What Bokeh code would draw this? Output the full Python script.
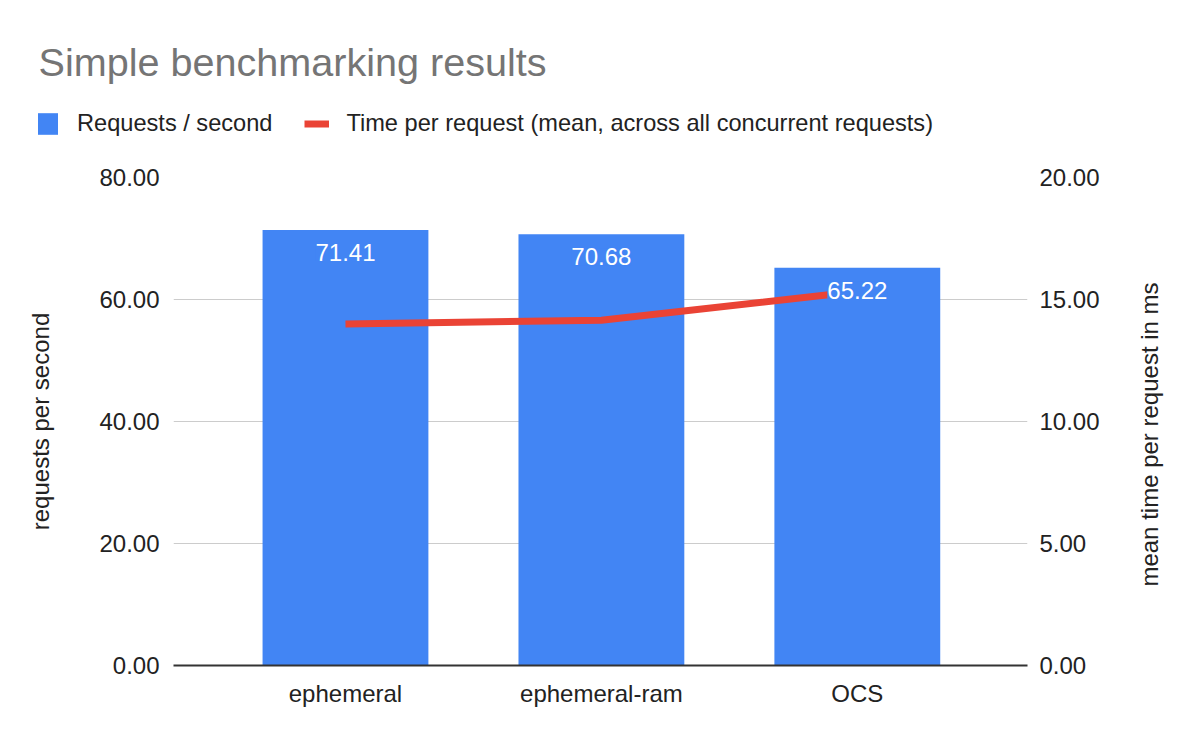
import numpy as np
from bokeh.plotting import figure
from bokeh.layouts import column, row
from bokeh.core.properties import value
from bokeh.models import (ColumnDataSource, LabelSet, Label, LinearAxis, Range1d,
                          FixedTicker, NumeralTickFormatter, Legend, LegendItem)
from bokeh.embed import file_html
from bokeh.resources import INLINE

# data
categories = ['ephemeral', 'ephemeral-ram', 'OCS']
requests_per_second = [71.41, 70.68, 65.22]
time_per_request = [14.00, 14.15, 15.33]
left_ticks = [0, 20, 40, 60, 80]
right_ticks = [0, 5, 10, 15, 20]

FONT = 'Liberation Sans'
BLUE = '#4285f4'
RED = '#ea4335'
TXT = '#222222'
FS = '24px'
W = 1196
HEAD_H = 150
CHART_W = 1127
CHART_H = 588


def bare_figure(w, h):
    # plain strip with no axes, data units == pixels
    f = figure(width=w, height=h, x_range=Range1d(0, w), y_range=Range1d(0, h),
               x_axis_type=None, y_axis_type=None, min_border=0,
               output_backend='svg', toolbar_location=None)
    f.frame_align = False
    f.outline_line_color = None
    f.grid.visible = False
    return f


idx = list(range(len(categories)))
src = ColumnDataSource(data=dict(x=idx, rps=requests_per_second, tpr=time_per_request,
                                 label=['%.2f' % v for v in requests_per_second]))

# ---- header: title + legend ----
head = bare_figure(W, HEAD_H)
head.add_layout(Label(x=38, y=HEAD_H - 61, text='Simple benchmarking results',
                      text_baseline='alphabetic', text_font=FONT, text_font_size='39.6px',
                      text_color='#757575'))

# hidden copies of the series, only used for the legend swatches
k_bar = head.vbar(x='x', top='rps', width=0.648, source=src,
                  fill_color=BLUE, line_color=None, visible=False)
k_line = head.line(x='x', y='tpr', source=src, line_color=RED, line_width=7, visible=False)
legend = Legend(items=[LegendItem(label='Requests / second', renderers=[k_bar]),
                       LegendItem(label='Time per request (mean, across all concurrent requests)',
                                  renderers=[k_line])],
                location=(35, HEAD_H - 137), orientation='horizontal',
                glyph_width=25, glyph_height=27, label_standoff=17, spacing=32,
                padding=0, margin=0, border_line_color=None, background_fill_alpha=0,
                inactive_fill_alpha=0,
                label_text_font=FONT, label_text_font_size='23.6px', label_text_color=TXT)
head.add_layout(legend)

# ---- chart ----
p = figure(frame_width=854, frame_height=488,
           x_range=Range1d(-0.672, 2.665), y_range=Range1d(0, 80),
           min_border_left=173, min_border_right=CHART_W - 173 - 854,
           min_border_top=CHART_H - 488 - 73, min_border_bottom=73,
           output_backend='svg', toolbar_location=None)
p.frame_align = False
p.extra_y_ranges = {'right': Range1d(0, 20)}
p.outline_line_color = None
p.background_fill_color = 'white'

p.vbar(x='x', top='rps', bottom=0, width=0.648, source=src,
       fill_color=BLUE, line_color=None)
p.line(x='x', y='tpr', y_range_name='right', source=src,
       line_color=RED, line_width=7)

labels = LabelSet(x='x', y='rps', text='label', source=src, y_offset=-14,
                  text_align='center', text_baseline='top', text_color='white',
                  text_font=value(FONT), text_font_size=FS,
                  background_fill_color=BLUE)
p.add_layout(labels)

# axes
p.xgrid.visible = False
p.ygrid.ticker = FixedTicker(ticks=left_ticks)
p.ygrid.grid_line_color = '#cccccc'
p.ygrid.grid_line_width = 1

p.xaxis.ticker = FixedTicker(ticks=idx)
p.xaxis.major_label_overrides = {i: c for i, c in enumerate(categories)}
p.xaxis.major_tick_line_color = None
p.xaxis.major_tick_out = 0
p.xaxis.minor_tick_line_color = None
p.xaxis.axis_line_color = '#333333'
p.xaxis.axis_line_width = 2
p.xaxis.major_label_standoff = 14
p.xaxis.major_label_text_font = FONT
p.xaxis.major_label_text_font_size = FS
p.xaxis.major_label_text_color = TXT

p.yaxis.ticker = FixedTicker(ticks=left_ticks)
p.yaxis.formatter = NumeralTickFormatter(format='0.00')
p.yaxis.axis_line_color = None
p.yaxis.major_tick_line_color = None
p.yaxis.major_tick_out = 0
p.yaxis.minor_tick_line_color = None
p.yaxis.major_label_standoff = 14
p.yaxis.major_label_text_font = FONT
p.yaxis.major_label_text_font_size = FS
p.yaxis.major_label_text_color = TXT
p.yaxis.axis_label = 'requests per second'
p.yaxis.axis_label_standoff = 42
p.yaxis.axis_label_text_font = FONT
p.yaxis.axis_label_text_font_size = FS
p.yaxis.axis_label_text_font_style = 'normal'
p.yaxis.axis_label_text_color = TXT

ra = LinearAxis(y_range_name='right', ticker=FixedTicker(ticks=right_ticks),
                formatter=NumeralTickFormatter(format='0.00'))
ra.axis_line_color = None
ra.major_tick_line_color = None
ra.major_tick_out = 0
ra.minor_tick_line_color = None
ra.major_label_standoff = 12
ra.major_label_text_font = FONT
ra.major_label_text_font_size = FS
ra.major_label_text_color = TXT
p.add_layout(ra, 'right')

# ---- right axis title, reads bottom to top ----
side = bare_figure(W - CHART_W, CHART_H)
side.add_layout(Label(x=22, y=CHART_H - 284, text='mean time per request in ms',
                      angle=np.pi / 2, text_align='center', text_baseline='middle',
                      text_font=FONT, text_font_size=FS, text_color=TXT))

layout = column(head, row(p, side))
open("out.html", "w").write(file_html(layout, INLINE))
